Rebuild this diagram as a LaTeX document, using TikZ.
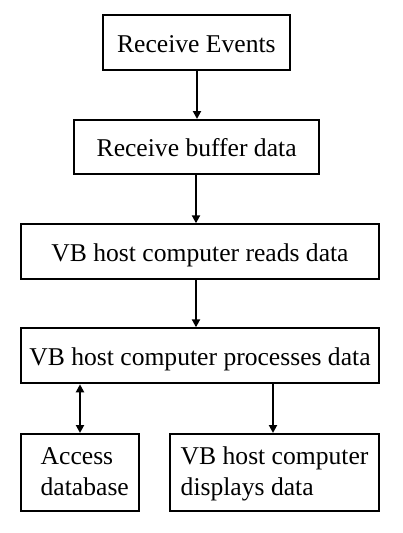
\documentclass[tikz,border=0pt]{standalone}
\usepackage{fontspec}
\setmainfont{Liberation Serif}
\usetikzlibrary{arrows.meta}
\tikzset{
  box/.style={draw=black, line width=2pt, rectangle, inner sep=0pt, fill=white,
    text height=19pt, text depth=0pt,
    font=\fontsize{25.6}{30}\selectfont},
  txt/.style={inner sep=0pt, align=left, font=\fontsize{25.6}{30.5}\selectfont},
  arr/.style={line width=2pt, -{Triangle[length=8pt,width=8pt]}},
  darr/.style={line width=2pt, {Triangle[length=8pt,width=8pt]}-{Triangle[length=8pt,width=8pt]}}
}
\begin{document}
\begin{tikzpicture}[x=1pt,y=1pt]
\useasboundingbox[fill=white] (0,0) rectangle (403,-533);
\node[box, minimum width=187.3pt, minimum height=55pt] (b1) at (196.35,-42.5) {Receive Events};
\node[box, minimum width=245.3pt, minimum height=54.3pt] (b2) at (196.65,-147.15) {Receive buffer data};
\node[box, minimum width=358pt, minimum height=55pt] (b3) at (200,-251.8) {VB host computer reads data};
\node[box, minimum width=358pt, minimum height=55pt] (b4) at (200,-355.8) {VB host computer processes data};
\node[box, minimum width=118.3pt, minimum height=76.7pt] (b5) at (80.15,-472.35) {};
\node[box, minimum width=209pt, minimum height=76.7pt] (b6) at (274.5,-472.35) {};
\node[txt, anchor=base west] (t5) at (40.5,-495) {Access\\database};
\node[txt, anchor=base west] (t6) at (180.5,-495) {VB host computer\\displays data};
\coordinate (c1) at (197,0);
\coordinate (c2) at (196,0);
\coordinate (c5) at (80,0);
\coordinate (c6) at (273,0);
\draw[arr] (b1.south -| c1) -- (b2.north -| c1);
\draw[arr] (b2.south -| c2) -- (b3.north -| c2);
\draw[arr] (b3.south -| c2) -- (b4.north -| c2);
\draw[darr] (b4.south -| c5) -- (b5.north -| c5);
\draw[arr] (b4.south -| c6) -- (b6.north -| c6);
\end{tikzpicture}
\end{document}
